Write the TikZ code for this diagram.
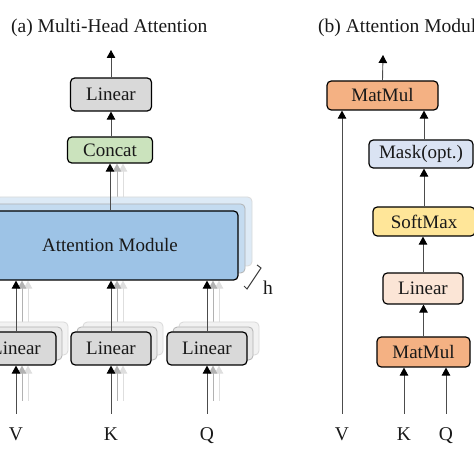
\documentclass[tikz,border=0pt]{standalone}
\usepackage{fontspec}
\setmainfont{Liberation Serif}
\usetikzlibrary{shapes, positioning, arrows.meta, backgrounds}

\definecolor{grayfill}{HTML}{D9D9D9}
\definecolor{greenfill}{HTML}{CBE3BD}
\definecolor{bluefill}{HTML}{9DC3E6}
\definecolor{orangefill}{HTML}{F4B183}
\definecolor{maskfill}{HTML}{DAE3F3}
\definecolor{yellowfill}{HTML}{FFE699}
\definecolor{peachfill}{HTML}{FBE5D6}

\begin{document}
\begin{tikzpicture}[x=1pt, y=1pt,
    block/.style={rectangle, draw=black, line width=1.2pt, rounded corners=1.5mm,
        text centered, inner sep=0pt, text=black!90, font=\fontsize{19}{22}\selectfont},
    ghostA/.style={block, draw=black!30, line width=0.8pt},
    ghostB/.style={block, draw=black!15, line width=0.8pt},
    linbox/.style={block, minimum width=80pt, minimum height=33pt},
    attbox/.style={block, minimum width=256pt, minimum height=69pt},
    title/.style={anchor=base west, inner sep=0pt, text=black!90, font=\fontsize{19.5}{22}\selectfont},
    letter/.style={anchor=base, inner xsep=0pt, inner ysep=14pt, text height=13pt, text depth=0pt,
        text=black!90, font=\fontsize{19.5}{22}\selectfont},
    arr/.style={-{Triangle[length=8pt, width=8.5pt, color=black]}, draw=black!70, line width=0.9pt},
    arrA/.style={-{Triangle[length=8pt, width=8.5pt]}, draw=black!30, line width=0.9pt},
    arrB/.style={-{Triangle[length=8pt, width=8.5pt]}, draw=black!13, line width=0.9pt}
]
\useasboundingbox (0,0) rectangle (474,474);

% (a) multi-head attention
\node (TitleA) [title] at (11,441) {(a) Multi-Head Attention};

\node (LinV) [linbox, fill=grayfill] at (16,125.5) {Linear};
\node (LinK) [linbox, fill=grayfill] at (111,125.5) {Linear};
\node (LinQ) [linbox, fill=grayfill] at (207,125.5) {Linear};
\node (InV) [letter] at (16,33) {V};
\node (InK) [letter] at (111,33) {K};
\node (InQ) [letter] at (207,33) {Q};

\node (Att) [attbox, fill=bluefill] at (110,228.5) {Attention Module};
\node (Concat) [block, fill=greenfill, minimum width=85pt, minimum height=26pt] at (110,324) {Concat};
\node (LinOut) [block, fill=grayfill, minimum width=81pt, minimum height=33pt] at (111,379.5) {Linear};
\coordinate (OutA) at (111,424);

\draw [arr] (Concat.south |- Att.north) -- (Concat.south);
\draw [arr] (LinOut.south |- Concat.north) -- (LinOut.south);
\draw [arr] (LinOut.north) -- (OutA);
\foreach \n in {V,K,Q}{
    \draw [arr] (In\n.north) -- (Lin\n.south);
    \draw [arr] (Lin\n.north) -- (Lin\n.north |- Att.south);
}

% h copies behind
\begin{pgfonlayer}{background}
\draw [arrB] ([xshift=13pt]Concat.south |- Att.north) -- ([xshift=13pt]Concat.south);
\draw [arrA] ([xshift=7pt]Concat.south |- Att.north) -- ([xshift=7pt]Concat.south);
\foreach \n in {V,K,Q}{
    \draw [arrB] ([xshift=12pt, yshift=13pt]In\n.north) -- ([xshift=12pt]Lin\n.south);
    \draw [arrA] ([xshift=6pt, yshift=13pt]In\n.north) -- ([xshift=6pt]Lin\n.south);
    \draw [arrB] ([xshift=12pt]Lin\n.north) -- ([xshift=12pt]Lin\n.north |- Att.south);
    \draw [arrA] ([xshift=6pt]Lin\n.north) -- ([xshift=6pt]Lin\n.north |- Att.south);
    \node (Lin\n B) [linbox, ghostB, fill=grayfill!35] at ([shift={(12pt,10pt)}]Lin\n.center) {};
    \node (Lin\n A) [linbox, ghostA, fill=grayfill!60] at ([shift={(6pt,5pt)}]Lin\n.center) {};
}
\node (AttB) [attbox, ghostB, fill=bluefill!35] at ([shift={(14pt,14pt)}]Att.center) {};
\node (AttA) [attbox, ghostA, fill=bluefill!60] at ([shift={(7pt,7pt)}]Att.center) {};
\end{pgfonlayer}

\draw [black!75, line width=1pt] (244,188) -- (247,185) -- (261,206) -- (257,209);
\node (Heads) [anchor=center, inner sep=0pt, text=black!90, font=\fontsize{19.5}{22}\selectfont] at (268,186) {h};

% (b) attention module
\node (TitleB) [title] at (318,441) {(b) Attention Module};

\node (MatTop) [block, fill=orangefill, minimum width=111pt, minimum height=29pt] at (382.5,378.5) {MatMul};
\node (Mask) [block, fill=maskfill, minimum width=104pt, minimum height=28pt] at (421,320) {Mask(opt.)};
\node (Soft) [block, fill=yellowfill, minimum width=102pt, minimum height=29pt] at (424,252.5) {SoftMax};
\node (LinR) [block, fill=peachfill, minimum width=80pt, minimum height=31pt] at (423,185.5) {Linear};
\node (MatBot) [block, fill=orangefill, minimum width=93pt, minimum height=30pt] at (423.5,122) {MatMul};
\node (RV) [letter] at (342,33) {V};
\node (RK) [letter] at (404,33) {K};
\node (RQ) [letter] at (446,33) {Q};
\coordinate (OutB) at (383,419);

\draw [arr] (MatTop.north) -- (OutB);
\draw [arr] (Soft.north |- Mask.north) -- (Soft.north |- MatTop.south);
\draw [arr] (Soft.north) -- (Soft.north |- Mask.south);
\draw [arr] (LinR.north) -- (LinR.north |- Soft.south);
\draw [arr] (MatBot.north) -- (MatBot.north |- LinR.south);
\draw [arr] (RV.north) -- (RV.north |- MatTop.south);
\draw [arr] (RK.north) -- (RK.north |- MatBot.south);
\draw [arr] (RQ.north) -- (RQ.north |- MatBot.south);

\end{tikzpicture}
\end{document}
